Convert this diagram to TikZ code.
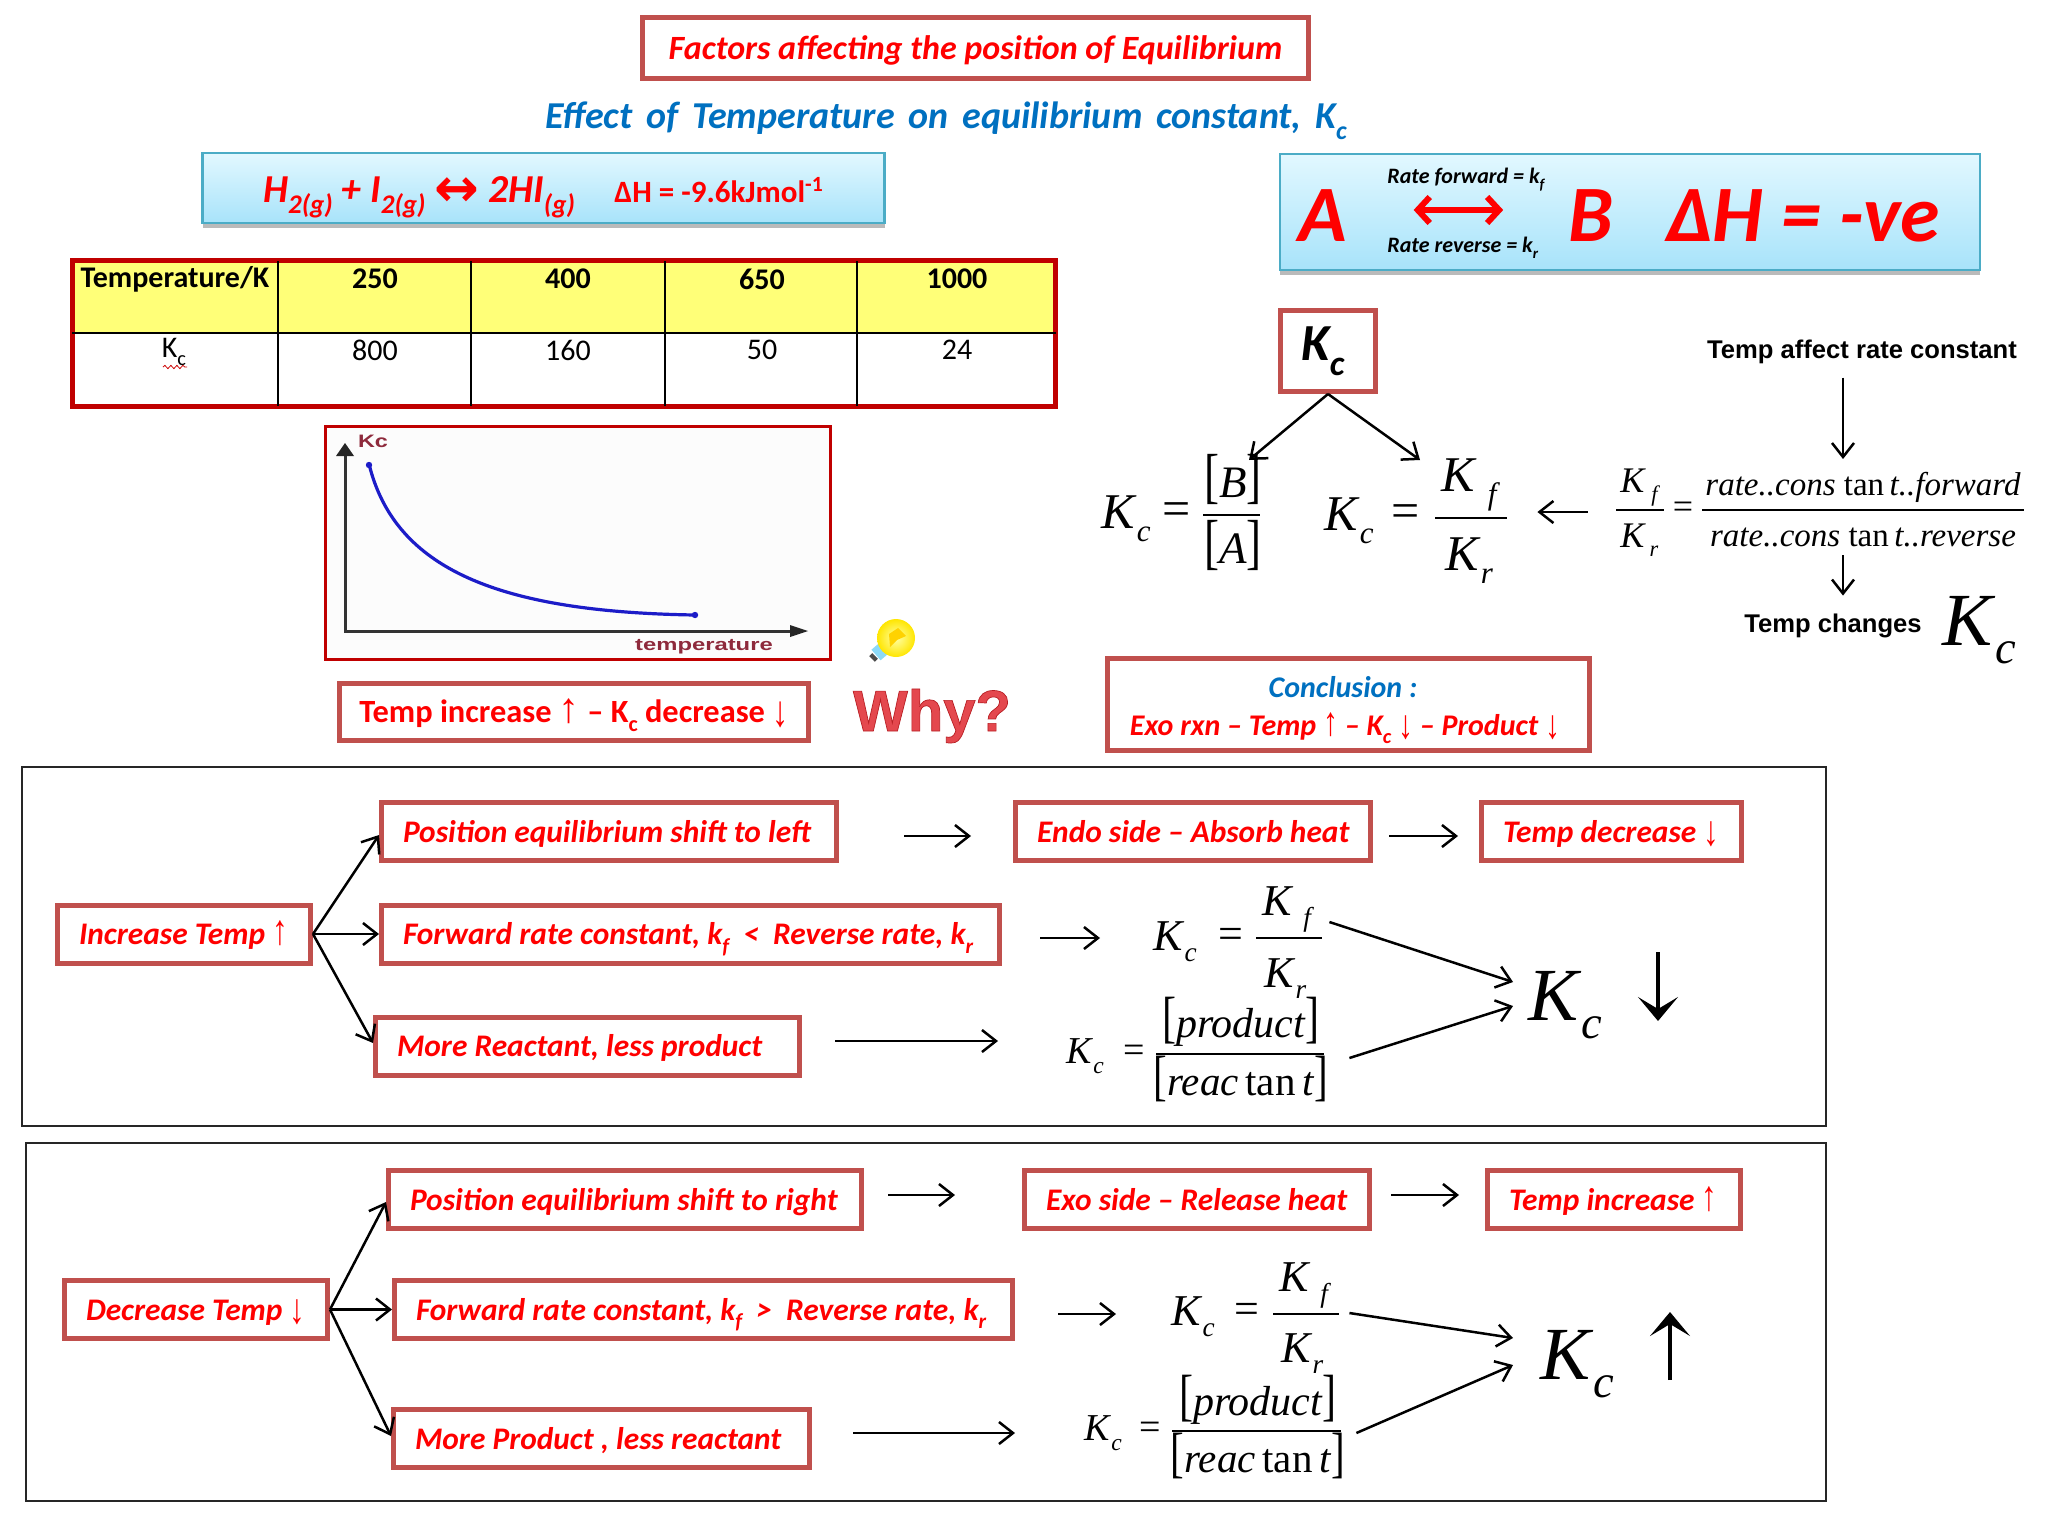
\documentclass[tikz,border=0pt]{standalone}
\usepackage{fontspec}
\usepackage{xcolor}
\usetikzlibrary{positioning,arrows.meta,shadows,decorations.pathmorphing}
\setmainfont{Carlito}
\newfontfamily\widefont[WordSpace=1.6]{Carlito}
\newfontfamily\eqfont{Liberation Serif}
\newfontfamily\armfont{Liberation Sans}
\newfontfamily\whyfont[FakeBold=1.2]{Liberation Sans}
\newfontfamily\dvfont{DejaVu Sans}
\definecolor{boxred}{HTML}{C0504D}
\definecolor{tblred}{HTML}{C00000}
\definecolor{headblue}{HTML}{0070C0}
\definecolor{hintop}{HTML}{E2F8FF}
\definecolor{hinbot}{HTML}{A8E3FA}
\definecolor{hinline}{HTML}{4BACC6}
\definecolor{tblyellow}{HTML}{FFFF78}
\definecolor{plotlabel}{HTML}{8E2A3C}
\definecolor{curveblue}{HTML}{1C1CC8}
\definecolor{whyfill}{HTML}{E4484E}
% small helpers for the formulas
\newcommand\lowsub[1]{\raisebox{-.28em}{\scalebox{.68}{#1}}}
\newcommand\Ksub[2][0em]{\textit{K}\kern#1\raisebox{-.25em}{\scalebox{.62}{\textit{#2}}}}
\newcommand\tallbr[1]{\raisebox{.02em}{\scalebox{1}[1.35]{[}}#1\raisebox{.02em}{\scalebox{1}[1.35]{]}}}
\newcommand\uparr{{\armfont\upshape\mdseries\scalebox{1}[1.35]{↑}}}
\newcommand\dnarr{{\armfont\upshape\mdseries\raisebox{-.12em}{\scalebox{1}[1.35]{↓}}}}
\tikzset{
  >={Straight Barb[length=7pt,width=11pt]},
  redline/.style={draw=boxred, fill=white, line width=2.5pt, inner sep=0pt},
  redbox/.style={redline, text width={#1-16pt}, inner xsep=8pt, minimum height=29pt, align=flush left,
    font=\fontsize{15.7}{18}\selectfont\bfseries\itshape, text=red, text height=12pt, text depth=1.5pt,
    execute at begin node={\hspace*{2.75pt}}},
  hibox/.style={draw=hinline, line width=1.25pt, top color=hintop, bottom color=hinbot, inner sep=0pt,
    drop shadow={shadow xshift=0pt, shadow yshift=-2.5pt, opacity=.45, fill=black!60}},
  panel/.style={draw=black!85, line width=1.25pt, inner sep=0pt},
  flow/.style={->, line width=1.25pt, draw=black},
  bigflow/.style={-{Stealth[length=12pt,width=20pt,inset=6pt]}, line width=1.8pt, draw=black},
  eq/.style={font=\fontsize{#1}{#1}\eqfont, inner sep=0pt, anchor=base west},
  eqc/.style={font=\fontsize{#1}{#1}\eqfont, inner sep=0pt, anchor=base},
  eqsign/.style={font=\fontsize{#1}{#1}\eqfont, inner sep=0pt},
  fracbar/.style={fill=black, minimum width=#1, minimum height=1pt, inner sep=0pt},
  bigab/.style={text=red, inner sep=0pt, font=\fontsize{40}{42}\selectfont\bfseries\itshape},
  ratelbl/.style={inner sep=0pt, anchor=west, font=\fontsize{11}{12}\selectfont\bfseries\itshape},
  tblcell/.style={font=\fontsize{15}{18}\selectfont, inner sep=0pt},
  tblhead/.style={font=\fontsize{15}{18}\selectfont\bfseries, inner sep=0pt},
}

\begin{document}
\begin{tikzpicture}[x=0.5pt,y=-0.5pt]
  \useasboundingbox (0,0) rectangle (2048,1536);

  % headings
  \node[redline, minimum width=333pt, minimum height=30.5pt, text=red, text height=12.5pt, text depth=1pt,
        font=\fontsize{17}{20}\selectfont\bfseries\itshape] (title) at (975.5,48)
        {Factors affecting the position of Equilibrium};
  \node[text=headblue, inner sep=0pt, font=\fontsize{19}{20}\widefont\bfseries\itshape] (effect) at (946,121)
        {Effect of Temperature on equilibrium constant, K\lowsub{c}};

  % reaction boxes
  \node[hibox, minimum width=341pt, minimum height=35pt, text=red, text height=16pt, text depth=2pt,
        font=\fontsize{19.8}{22}\selectfont\bfseries\itshape] (reaction) at (543.5,188)
        {H\lowsub{2(g)} + I\lowsub{2(g)} {\dvfont\upshape\raisebox{-.12em}{\scalebox{1.35}{↔}}} 2HI\lowsub{(g)}\quad{\upshape\fontsize{15.5}{18}\selectfont ΔH = -9.6kJmol\textsuperscript{-1}}};
  \node[hibox, minimum width=350pt, minimum height=58pt] (ab) at (1630,212) {};
  \node[bigab] (pa) at (1323,216) {A};
  \node[bigab] (pb) at (1591,216) {B};
  \node[bigab] (dh) at (1803,216) {ΔH = -ve};
  \node[ratelbl] (rf) at (1387,180) {Rate forward = k\lowsub{f}};
  \node[ratelbl] (rr) at (1387,248) {Rate reverse = k\lowsub{r}};
  \draw[{Straight Barb[length=6pt,width=13pt]}-{Straight Barb[length=6pt,width=13pt]}, line width=3pt, draw=red,
        shorten <=33pt, shorten >=32.5pt] ([yshift=3pt]pa.east) -- ([yshift=3pt]pb.west);

  % table
  \node[fill=tblyellow, minimum width=491.5pt, minimum height=36pt, inner sep=0pt] (thead) at (564,297) {};
  \node[draw=tblred, line width=2.5pt, minimum width=491.5pt, minimum height=73pt, inner sep=0pt] (tbl) at (564,333.5) {};
  \draw[line width=1pt] (thead.south west) -- (thead.south east);
  \foreach \cx in {278,471,665,857}
    \draw[line width=.6pt] (\cx,261) -- (\cx,406);
  \node[tblhead] (tt) at (175,279) {Temperature/K};
  \node[tblcell] (tk) at (174,352) {K\lowsub{c}};
  \draw[red!80!black, line width=.4pt, decorate, decoration={snake, amplitude=.8pt, segment length=3pt}] (163,367) -- (187,367);
  \foreach \cx/\th/\tv in {375/250/800,568/400/160,762/650/50,957/1000/24} {
    \node[tblhead] (h\th) at (\cx,279) {\th};
    \node[tblcell] (v\th) at (\cx,350) {\tv};
  }

  % plot
  \node[draw=tblred, fill=black!1, line width=1.5pt, minimum width=252.5pt, minimum height=116.5pt, inner sep=0pt] (plot) at (578,543) {};
  \draw[line width=1.5pt, black!80] (345,450) -- (345,631) -- (800,631);
  \fill[black!85] (345,443) -- (336,456) -- (354,456) -- cycle;
  \fill[black!85] (808,631) -- (790,625) -- (790,637) -- cycle;
  \draw[curveblue, line width=1.6pt] (369,464) .. controls (395,570) and (500,612) .. (695,615);
  \fill[curveblue] (369,465) circle (1.6pt) (695,615) circle (1.6pt);
  \node[text=plotlabel, inner sep=0pt, xscale=1.3, font=\fontsize{9}{10}\armfont\bfseries] (kclabel) at (373,441) {Kc};
  \node[text=plotlabel, inner sep=0pt, xscale=1.4, font=\fontsize{8.5}{10}\armfont\bfseries] (tlabel) at (704,647) {temperature};

  \node[redline, minimum width=234.5pt, minimum height=28.5pt, text=red, text height=12pt, text depth=1.5pt,
        font=\fontsize{16.2}{18}\selectfont\bfseries] (incbox) at (574,712)
        {Temp increase {\armfont\upshape\scalebox{1.3}{↑}} – K\lowsub{c} decrease \dnarr};

  % bulb
  \draw[line width=7pt, cyan!45] (883,649) -- (876,655);
  \draw[line width=4pt, black!70] (875,656) -- (872,659);
  \shade[inner color=yellow!35, outer color=yellow!80!orange] (896,638) circle (9.5pt);
  \fill[orange!35!yellow] (889,634) -- (898,628) -- (906,636) -- (897,640) -- (890,647) -- cycle;

  \node[inner sep=0pt, font=\fontsize{29}{30}\whyfont\bfseries] (why) at (932,716)
        {\color{whyfill}\special{pdf:code 0.72 0.12 0.14 RG}Why?};

  % Kc box and its two definitions
  \node[redline, minimum width=47.5pt, minimum height=40.5pt, font=\fontsize{26}{26}\selectfont\bfseries\itshape] (kcbox) at (1328,351) {K\lowsub{c}\kern5pt};
  \node[eq=25] (ka) at (1101,528.5) {\Ksub{c}};
  \node[eqsign=25] (ea) at (1177,514) {=};
  \node[fracbar=28.5pt] (bara) at (1231.5,515) {};
  \node[eqc=22.5] (numb) at (1233,497) {\tallbr{\textit{B}}};
  \node[eqc=22.5] (numa) at (1233,563) {\tallbr{\textit{A}}};
  \node[eq=25] (kb) at (1324,530.5) {\Ksub{c}};
  \node[eqsign=25] (eb) at (1406,516) {=};
  \node[fracbar=36pt] (barb) at (1471,518) {};
  \node[eq=25] (kf) at (1441,491.5) {\Ksub[.22em]{f}};
  \node[eq=25] (kr) at (1445,570.5) {\Ksub{r}};
  \draw[flow] (kcbox.south) -- ([xshift=8pt,yshift=18.5pt]numb.base);
  \draw[flow] (kcbox.south) -- ([xshift=-10.5pt,yshift=15.75pt]kf.base west);

  % rate constants
  \node[eq=18] (ksf) at (1620,492) {\Ksub[.15em]{f}};
  \node[eq=18] (ksr) at (1620,547) {\Ksub[.1em]{r}};
  \node[fracbar=24pt] (bars) at (1640,510) {};
  \node[eqsign=18] (es) at (1683,510) {=};
  \node[fracbar=161pt] (barl) at (1863,510) {};
  \node[eqc=16.5] (ratef) at (1863,495) {\textit{rate..cons} tan\,\textit{t..forward}};
  \node[eqc=16.5] (rater) at (1863,546) {\textit{rate..cons} tan\,\textit{t..reverse}};
  \node[inner sep=0pt, font=\fontsize{12.8}{14}\armfont\bfseries] (tempa) at (1862,352) {Temp affect rate constant};
  \node[inner sep=0pt, font=\fontsize{12.8}{14}\armfont\bfseries] (tempc) at (1833,626) {Temp changes};
  \node[eq=37.5] (ktop) at (1942,645) {\Ksub{c}};
  \draw[flow, shorten <=14pt, shorten >=15pt] ([yshift=-1pt]bars.west) -- ([yshift=3pt]barb.east);
  \draw[flow] ([xshift=-9.5pt,yshift=-9.5pt]tempa.base) -- ([xshift=-10pt,yshift=18pt]ratef.base);
  \draw[flow] ([xshift=-10pt,yshift=-4.5pt]rater.base) -- ([xshift=5pt,yshift=18.5pt]tempc.base);

  \node[redline, minimum width=241pt, minimum height=46pt] (concl) at (1348.5,704.5) {};
  \node[text=headblue, inner sep=0pt, anchor=base, font=\fontsize{15}{18}\selectfont\bfseries\itshape] (conclhead) at (1343,697) {Conclusion :};
  \node[text=red, inner sep=0pt, anchor=base, font=\fontsize{15}{18}\selectfont\bfseries\itshape] (conclline) at (1345,735)
        {Exo rxn – Temp \uparr{} – K\lowsub{c} \dnarr{} – Product \dnarr};

  % increase temperature panel
  \node[panel, minimum width=902pt, minimum height=179.5pt] (paneli) at (924,946.5) {};
  \node[redbox=126.5pt] (inc) at (184,934) {Increase Temp \uparr};
  \node[redbox=227.5pt] (posl) at (609,831.5) {Position equilibrium shift to left};
  \node[redbox=177.5pt, right=87pt of posl] (endo) {Endo side – Absorb heat};
  \node[redbox=130pt, right=53pt of endo] (tdec) {Temp decrease \dnarr};
  \node[redbox=309pt] (fwdl) at (690.5,934) {Forward rate constant, k\lowsub{f} ~<~ Reverse rate, k\lowsub{r}};
  \node[redbox=212pt] (morer) at (587.5,1046) {More Reactant, less product};

  \node[eq=22] (kci) at (1153,950) {\Ksub{c}};
  \node[eqsign=22] (eqi) at (1231,938) {=};
  \node[fracbar=33pt] (barfi) at (1289,938) {};
  \node[eq=22] (kfi) at (1262,915) {\Ksub[.22em]{f}};
  \node[eq=22] (kri) at (1264,987) {\Ksub{r}};
  \node[eq=19] (kpi) at (1066,1063.5) {\Ksub{c}};
  \node[eqsign=19] (eqpi) at (1134,1054) {=};
  \node[fracbar=84pt] (barpi) at (1240,1054) {};
  \node[eqc=21] (prodi) at (1241,1037) {\tallbr{\textit{product}}};
  \node[eqc=20.5] (reaci) at (1241,1095) {\tallbr{\textit{reac}\,tan\,\textit{t}}};
  \node[eq=37.5] (bigi) at (1528,1020) {\Ksub{c}};

  \draw[flow] (inc.east) -- ([yshift=-1.75pt]posl.west);
  \draw[flow] (inc.east) -- (fwdl.west);
  \draw[flow] (inc.east) -- ([yshift=1.5pt]morer.west);
  \draw[flow, shorten <=32.5pt, shorten >=21pt] ([yshift=-2.25pt]posl.east) -- ([yshift=-2.25pt]endo.west);
  \draw[flow, shorten <=8pt, shorten >=10.5pt] ([yshift=-2.25pt]endo.east) -- ([yshift=-2.25pt]tdec.west);
  \draw[flow, shorten <=19pt] ([yshift=-2pt]fwdl.east) -- ([xshift=-26.5pt,yshift=6pt]kci.base west);
  \draw[flow, shorten <=16.5pt] ([yshift=2.5pt]morer.east) -- ([xshift=-34pt,yshift=11.25pt]kpi.base west);
  \draw[flow] ([xshift=3.5pt,yshift=8pt]barfi.east) -- ([xshift=-7.5pt,yshift=19pt]bigi.base west);
  \draw[flow] ([xshift=12.5pt,yshift=-2pt]barpi.east) -- ([xshift=-7.5pt,yshift=7pt]bigi.base west);
  \draw[bigflow] ([xshift=65pt,yshift=34pt]bigi.base west) -- ([xshift=65pt,yshift=-.5pt]bigi.base west);

  % decrease temperature panel
  \node[panel, minimum width=900pt, minimum height=179pt] (paneld) at (926,1322) {};
  \node[redbox=131.5pt] (dec) at (196,1309.5) {Decrease Temp \dnarr};
  \node[redbox=236.5pt] (posr) at (625,1199.5) {Position equilibrium shift to right};
  \node[redbox=172.5pt, right=79pt of posr] (exo) {Exo side – Release heat};
  \node[redbox=126.5pt, right=56.5pt of exo] (tinc) {Temp increase \uparr};
  \node[redbox=309pt] (fwdg) at (703.5,1309.5) {Forward rate constant, k\lowsub{f} ~>~ Reverse rate, k\lowsub{r}};
  \node[redbox=208pt] (morep) at (601.5,1438.5) {More Product , less reactant};

  \node[eq=22] (kcd) at (1171,1325.5) {\Ksub{c}};
  \node[eqsign=22] (eqd) at (1247,1313) {=};
  \node[fracbar=33pt] (barfd) at (1306,1314) {};
  \node[eq=22] (kfd) at (1279,1291) {\Ksub[.22em]{f}};
  \node[eq=22] (krd) at (1281,1362) {\Ksub{r}};
  \node[eq=19] (kpd) at (1084,1440.5) {\Ksub{c}};
  \node[eqsign=19] (eqpd) at (1150,1431) {=};
  \node[fracbar=84.5pt] (barpd) at (1256.5,1431) {};
  \node[eqc=21] (prodd) at (1258,1415) {\tallbr{\textit{product}}};
  \node[eqc=20.5] (reacd) at (1258,1472) {\tallbr{\textit{reac}\,tan\,\textit{t}}};
  \node[eq=37.5] (bigd) at (1540,1379) {\Ksub{c}};

  \draw[flow] (dec.east) -- ([yshift=-1.25pt]posr.west);
  \draw[flow] (dec.east) -- (fwdg.west);
  \draw[flow] (dec.east) -- ([yshift=1.25pt]morep.west);
  \draw[flow, shorten <=12pt, shorten >=33.5pt] ([yshift=2.25pt]posr.east) -- ([yshift=2.25pt]exo.west);
  \draw[flow, shorten <=9.5pt, shorten >=13pt] ([yshift=2.25pt]exo.east) -- ([yshift=2.25pt]tinc.west);
  \draw[flow, shorten <=21.5pt] ([yshift=-2.25pt]fwdg.east) -- ([xshift=-27.5pt,yshift=5.75pt]kcd.base west);
  \draw[flow, shorten <=20.5pt] ([yshift=2.75pt]morep.east) -- ([xshift=-34.5pt,yshift=3.75pt]kpd.base west);
  \draw[flow] ([xshift=5pt,yshift=.5pt]barfd.east) -- ([xshift=-13.5pt,yshift=20.5pt]bigd.base west);
  \draw[flow] ([xshift=7.5pt,yshift=-1pt]barpd.east) -- ([xshift=-13.5pt,yshift=7pt]bigd.base west);
  \draw[bigflow] ([xshift=65pt,yshift=-.5pt]bigd.base west) -- ([xshift=65pt,yshift=33.5pt]bigd.base west);
\end{tikzpicture}
\end{document}
